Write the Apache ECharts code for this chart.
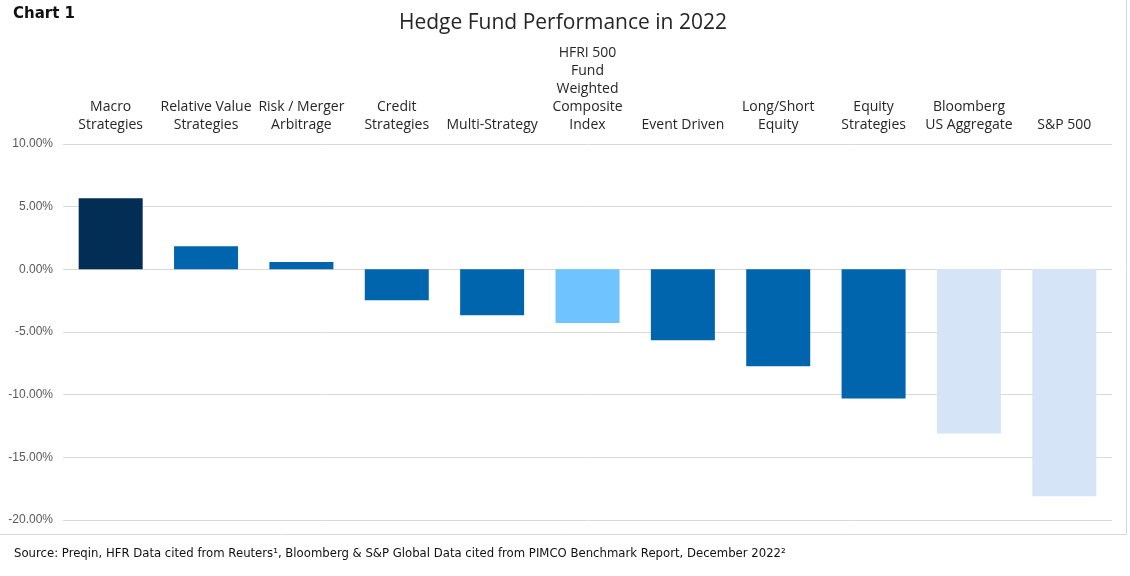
<!DOCTYPE html>
<html>
<head>
<meta charset="utf-8">
<title>Hedge Fund Performance in 2022</title>
<script src="https://cdn.jsdelivr.net/npm/echarts@6/dist/echarts.min.js"></script>
<style>
  html, body { margin: 0; padding: 0; background: #fff; }
  #chart { width: 1130px; height: 576px; }
</style>
</head>
<body>
<div id="chart"></div>
<script>
// categories (line breaks as in the original labels)
var categories = [
  "Macro\nStrategies",
  "Relative Value\nStrategies",
  "Risk / Merger\nArbitrage",
  "Credit\nStrategies",
  "Multi-Strategy",
  "HFRI 500\nFund\nWeighted\nComposite\nIndex",
  "Event Driven",
  "Long/Short\nEquity",
  "Equity\nStrategies",
  "Bloomberg\nUS Aggregate",
  "S&P 500"
];
// 2022 returns, in percent
var returns = [5.68, 1.85, 0.58, -2.47, -3.66, -4.29, -5.65, -7.73, -10.3, -13.1, -18.1];
// bar colours, one per category
var barColors = [
  "#022d54", "#0065ad", "#0065ad", "#0065ad", "#0065ad",
  "#6fc3ff", "#0065ad", "#0065ad", "#0065ad", "#d6e4f7", "#d6e4f7"
];

var chart = echarts.init(document.getElementById("chart"));

var option = {
  animation: false,
  graphic: [
    {
      type: "text", left: 13, top: 7,
      style: { text: "Chart 1", font: "bold 15px 'DejaVu Sans'", fill: "#111" }
    },
    {
      type: "text", left: 399, top: 13,
      style: { text: "Hedge Fund Performance in 2022", font: "21px 'Open Sans'", fill: "#262626" }
    },
    {
      type: "text", left: 14, top: 548,
      style: {
        text: "Source: Preqin, HFR Data cited from Reuters\u00b9, Bloomberg & S&P Global Data cited from PIMCO Benchmark Report, December 2022\u00b2",
        font: "11.7px 'DejaVu Sans'", fill: "#111"
      }
    },
    {
      type: "line", silent: true,
      shape: { x1: 0, y1: 534.5, x2: 1126.5, y2: 534.5 },
      style: { stroke: "#d9d9d9", lineWidth: 1 }
    },
    {
      type: "line", silent: true,
      shape: { x1: 1126.5, y1: 0, x2: 1126.5, y2: 534.5 },
      style: { stroke: "#d9d9d9", lineWidth: 1 }
    }
  ],
  grid: { left: 63, right: 18, top: 144, bottom: 56 },
  xAxis: {
    type: "category",
    position: "top",
    data: categories,
    axisLine: { show: false },
    axisTick: { show: false },
    axisLabel: {
      interval: 0,
      margin: 10,
      fontFamily: "Open Sans",
      fontSize: 14,
      lineHeight: 18,
      color: "#262626"
    }
  },
  yAxis: {
    type: "value",
    min: -20,
    max: 10,
    interval: 5,
    axisLine: { show: false },
    axisTick: { show: false },
    splitLine: { lineStyle: { color: "#d9d9d9", width: 1 } },
    axisLabel: {
      margin: 10,
      fontFamily: "Liberation Sans",
      fontSize: 12,
      color: "#595959",
      formatter: function (v) { return v.toFixed(2) + "%"; }
    }
  },
  series: [{
    type: "bar",
    barWidth: 64,
    data: returns.map(function (v, i) {
      return { value: v, itemStyle: { color: barColors[i] } };
    })
  }]
};

chart.setOption(option);
</script>
</body>
</html>
